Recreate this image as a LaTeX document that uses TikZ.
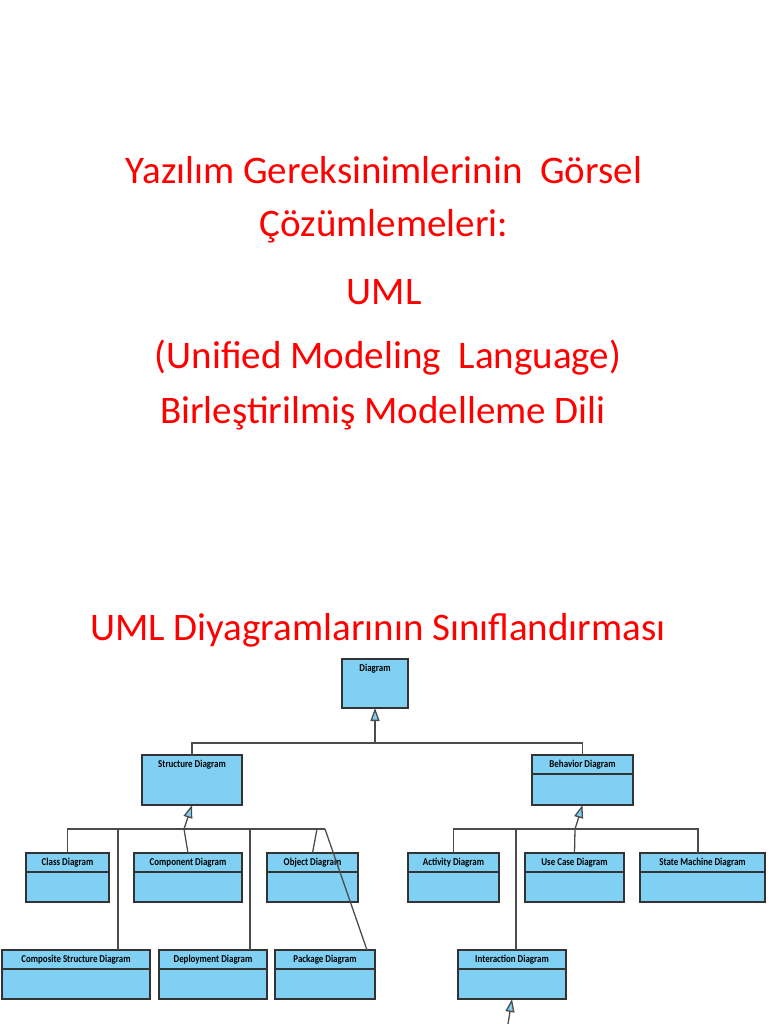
\documentclass[tikz,border=0pt]{standalone}
\usepackage{fontspec}
\setmainfont{Carlito}
\usetikzlibrary{arrows.meta}
\definecolor{boxblue}{HTML}{7FD0F2}
\definecolor{title}{HTML}{FF0000}
\tikzset{
  x=1pt,y=-1pt,
  ttl/.style={text=title,font=\fontsize{39}{46}\selectfont,inner sep=0,anchor=center},
  uml/.style={draw=black!80,line width=1.2pt,fill=boxblue},
  lbl/.style={font=\bfseries\fontsize{10.5}{12}\selectfont,inner sep=0,xscale=0.85},
  gen/.style={draw=black!70,line width=1.3pt},
  inh/.style={gen,-{Triangle[open,fill=boxblue,width=9pt,length=13pt]}}
}
\newcommand{\umlbox}[6]{% name,x1,y1,x2,y2,label
  \draw[uml] (#2,#3) rectangle (#4,#5);
  \coordinate (#1-t) at ({(#2+#4)/2},#3);
  \coordinate (#1-b) at ({(#2+#4)/2},#5);
  \node[lbl] (#1) at ({(#2+#4)/2},#3+10) {#6};
}
\newcommand{\umldiv}[3]{\draw[uml] (#1,#3) -- (#2,#3);}
\begin{document}
\begin{tikzpicture}
\useasboundingbox (0,0) rectangle (768,1024);
\node[ttl] (t1) at (384,170) {Yazılım Gereksinimlerinin\ \ Görsel};
\node[ttl] (t2) at (384,226) {Çözümlemeleri:};
\node[ttl] (t3) at (384,292) {UML};
\node[ttl] (t4) at (388,358) {(Unified Modeling\ \ Language)};
\node[ttl] (t5) at (383,413) {Birleştirilmiş Modelleme Dili};
\node[ttl] (t6) at (378,630) {UML Diyagramlarının Sınıflandırması};

\umlbox{dia}{342}{659}{408}{708}{Diagram}
\umlbox{str}{142}{755}{242}{805}{Structure Diagram}
\umlbox{beh}{532}{755}{633}{805}{Behavior Diagram}\umldiv{532}{633}{774}
\umlbox{cls}{26}{853}{109}{902}{Class Diagram}\umldiv{26}{109}{872}
\umlbox{cmp}{134}{853}{242}{902}{Component Diagram}\umldiv{134}{242}{872}
\umlbox{obj}{267}{853}{358}{902}{Object Diagram}\umldiv{267}{358}{872}
\umlbox{cst}{2}{950}{150}{999}{Composite Structure Diagram}\umldiv{2}{150}{969}
\umlbox{dep}{159}{950}{267}{999}{Deployment Diagram}\umldiv{159}{267}{969}
\umlbox{pkg}{275}{950}{375}{999}{Package Diagram}\umldiv{275}{375}{969}
\umlbox{act}{408}{853}{499}{902}{Activity Diagram}\umldiv{408}{499}{872}
\umlbox{use}{525}{853}{624}{902}{Use Case Diagram}\umldiv{525}{624}{872}
\umlbox{stm}{640}{853}{765}{902}{State Machine Diagram}\umldiv{640}{765}{872}
\umlbox{int}{458}{950}{566}{999}{Interaction Diagram}\umldiv{458}{566}{969}

\coordinate (j0) at (375,743);
\draw[gen] (str-t) |- (j0) -| (beh-t);
\draw[inh] (j0) -- (375,708);

\coordinate (j1) at (184,829);
\draw[gen] (cls-t) |- (pkg-t |- j1);
\draw[gen] (pkg-t |- j1) -- (367,950);
\draw[gen] (118,829) -- (118,950);
\draw[gen] (250,829) -- (250,950);
\draw[gen] (317,829) -- (obj-t);
\draw[gen] (cmp-t) -- (j1);
\draw[inh] (j1) -- (str-b);

\coordinate (j2) at (575,829);
\draw[gen] (act-t) |- (698,829) -- (698,853);
\draw[gen] (516,829) -- (516,950);
\draw[gen] (use-t) -- (j2);
\draw[inh] (j2) -- (beh-b);

\coordinate (ie) at (508,1024);
\draw[inh] (ie) -- (int-b);
\end{tikzpicture}
\end{document}
